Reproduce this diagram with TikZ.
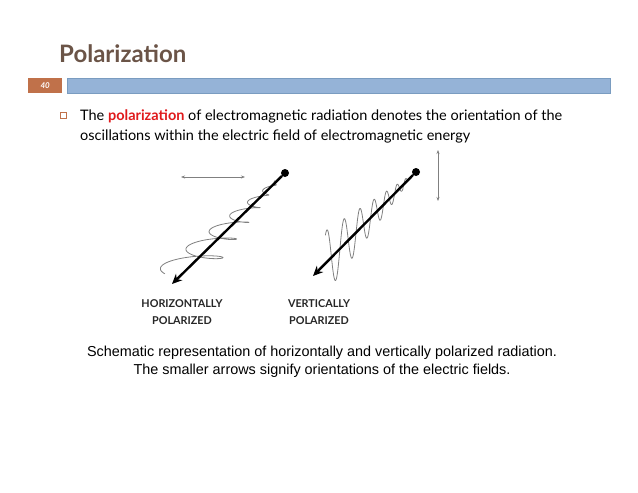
\documentclass[tikz,border=0pt]{standalone}
\usepackage{fontspec}
\setmainfont{Lato}
\newfontfamily\capfont{Liberation Sans}
\usetikzlibrary{arrows.meta}
\definecolor{titlec}{HTML}{6B5447}
\definecolor{numc}{HTML}{C0714A}
\definecolor{barc}{HTML}{95B3D7}
\definecolor{barb}{HTML}{7A9CC0}
\definecolor{redc}{HTML}{E0191B}
\definecolor{wavec}{HTML}{808080}
\tikzset{
  bodytxt/.style={anchor=base west, inner sep=0pt, font=\fontsize{14.5}{16}\selectfont},
  lbl/.style={align=center, inner sep=0pt, font=\bfseries\fontsize{10.8}{17}\selectfont, text=black!85},
  beam/.style={line width=2.4pt, -{Stealth[length=10pt,width=9pt]}},
  wave/.style={wavec, line width=0.8pt},
  small/.style={gray, line width=0.6pt, {Stealth[length=4pt]}-{Stealth[length=4pt]}},
}
\begin{document}
\begin{tikzpicture}[x=1pt,y=-1pt]
\useasboundingbox[fill=white] (0,0) rectangle (638,493);
\node[anchor=base west, inner sep=0pt, text=titlec, font=\bfseries\fontsize{24}{26}\selectfont] (title) at (59,62) {Polarization};
\node[fill=numc, minimum width=34pt, minimum height=15pt, inner sep=0pt, anchor=north west, text=white, font=\bfseries\itshape\fontsize{8}{9}\selectfont] (num) at (28,78) {40};
\node[fill=barc, draw=barb, minimum width=543pt, minimum height=15pt, inner sep=0pt, anchor=north west] (bar) at (67,78) {};
\node[draw=numc, line width=0.6pt, minimum size=6pt, inner sep=0pt] (bul) at (63,115) {};
\node[bodytxt] (l1) at (80,120) {The \textcolor{redc}{\bfseries polarization} of electromagnetic radiation denotes the orientation of the};
\node[bodytxt] (l2) at (80,140) {oscillations within the electric field of electromagnetic energy};
% small arrows
\coordinate (ha) at (181,177); \coordinate (hb) at (245,177);
\draw[small] (ha) -- (hb);
\coordinate (va) at (438,150); \coordinate (vb) at (438,201);
\draw[small] (va) -- (vb);
% left wave
\draw[wave] plot[domain=0.07:0.88, samples=500, smooth] ({285-113*\x + 32*\x*sin(360*8.5*(\x^0.6))}, {173+110*\x + 7*\x*cos(360*8.5*(\x^0.6))});
\node[circle, fill=black, minimum size=8pt, inner sep=0pt] (d1) at (285,173) {};
\coordinate (e1) at (172,284);
\draw[beam] (d1) -- (e1);
% right wave
\draw[wave] plot[domain=0.08:0.88, samples=500, smooth] ({416-103*\x}, {172+103*\x - 36*\x*sin(360*9*(\x^0.6))});
\node[circle, fill=black, minimum size=8pt, inner sep=0pt] (d2) at (416,172) {};
\coordinate (e2) at (313,276);
\draw[beam] (d2) -- (e2);
\node[lbl] (lh) at (182,312) {HORIZONTALLY\\POLARIZED};
\node[lbl] (lv) at (319,312) {VERTICALLY\\POLARIZED};
\node[align=center, inner sep=0pt, font=\capfont\fontsize{14.4}{18}\selectfont] (cap) at (322,362) {Schematic representation of horizontally and vertically polarized radiation.\\The smaller arrows signify orientations of the electric fields.};
\end{tikzpicture}
\end{document}
